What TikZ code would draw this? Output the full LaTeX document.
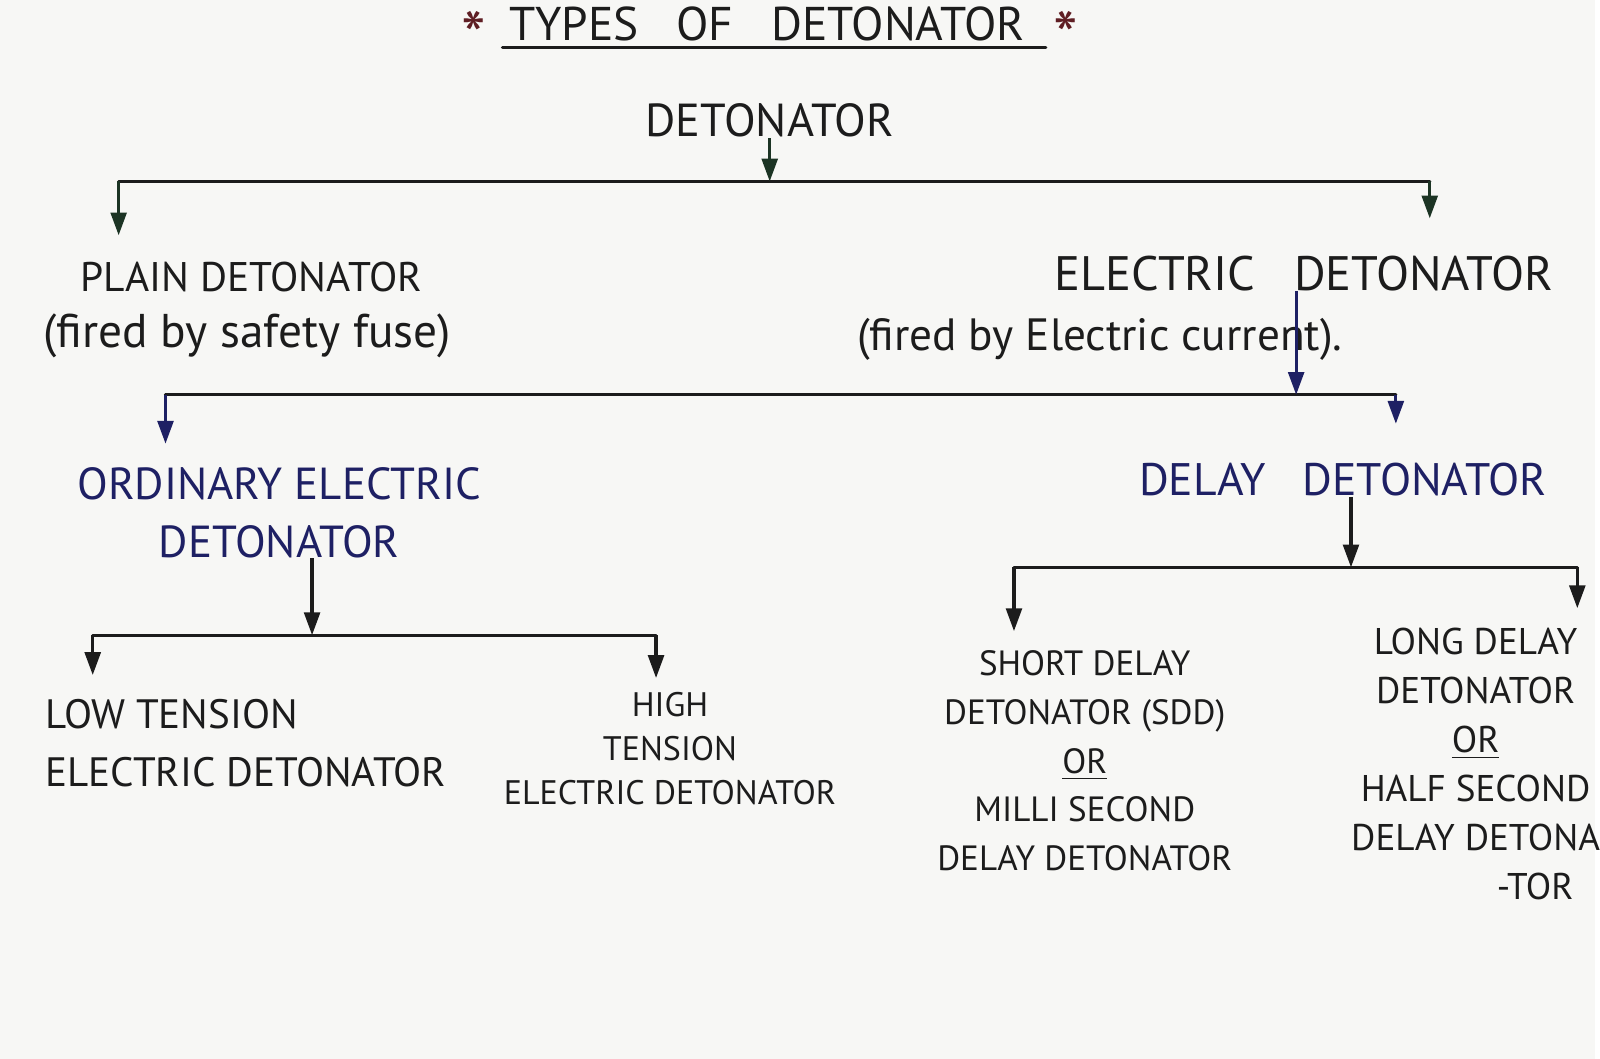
\documentclass[tikz,border=0pt]{standalone}
\usepackage{fontspec}
\setmainfont{PT Sans}
\usetikzlibrary{arrows.meta,positioning}

\definecolor{ink}{RGB}{28,28,28}
\definecolor{inkblue}{RGB}{30,32,100}
\definecolor{inkgreen}{RGB}{28,52,36}
\definecolor{inkred}{RGB}{95,30,35}
\definecolor{paper}{RGB}{247,247,245}
\newcommand{\fsz}[2]{\fontsize{#1}{#2}\selectfont}
\newcommand{\titlestar}{\textcolor{inkred}{\raisebox{-.9ex}[0pt][0pt]{\fsz{20}{20}*}}}

\begin{document}
\begin{tikzpicture}[
    x=0.01cm, y=-0.01cm,
    txt/.style={align=center, inner sep=0pt, text=ink},
    bluetxt/.style={txt, text=inkblue},
    arrow/.style={-{Triangle[length=6.5pt,width=4.5pt]}, line width=0.9pt, draw=ink},
    bar/.style={line width=0.9pt, draw=ink, line cap=round}
]
    % paper
    \fill[paper] (0,0) rectangle (1600,1062);

    % title
    \node[txt, font=\fsz{13.5}{16}] (title) at (772,24)
        {\titlestar\hspace{.5em}TYPES\hspace{.8em}OF\hspace{.8em}DETONATOR\hspace{.6em}\titlestar};
    \coordinate (ul1) at (504,48);
    \coordinate (ul2) at (1049,48);
    \draw[bar] (ul1) -- (ul2);

    % level 1
    \node[txt, font=\fsz{13.2}{15}] (root) at (772,121) {DETONATOR};
    \coordinate (a1) at (119,182);
    \coordinate (a2) at (1434,182);
    \coordinate (a1t) at (119,236);
    \coordinate (a2t) at (1434,219);
    \draw[bar] (a1) -- (a2);
    \draw[arrow, draw=inkgreen] (root.south) -- (root.south |- a1);
    \draw[arrow, draw=inkgreen] (a1) -- (a1t);
    \draw[arrow, draw=inkgreen] (a2) -- (a2t);

    \node[txt, font=\fsz{11.8}{17}] (plain) at (252,278)
        {PLAIN DETONATOR};
    \node[txt, font=\fsz{13.5}{16}] (plainnote) at (248,337)
        {(fired by safety fuse)};
    \node[txt, font=\fsz{13.8}{15}] (elec) at (1308,274)
        {ELECTRIC\hspace{.8em}DETONATOR};
    \node[txt, font=\fsz{12.9}{15}] (elecnote) at (1103,340)
        {(fired by Electric current).};

    % level 2
    \coordinate (e0) at (1300,396);
    \coordinate (b1) at (166,396);
    \coordinate (b2) at (1400,396);
    \coordinate (b1t) at (166,445);
    \coordinate (b2t) at (1400,425);
    \draw[bar] (b1) -- (b2);
    \draw[arrow, draw=inkblue] (e0 |- elec.south) -- (e0);
    \draw[arrow, draw=inkblue] (b1) -- (b1t);
    \draw[arrow, draw=inkblue] (b2) -- (b2t);

    \node[bluetxt, font=\fsz{12.8}{16.5}] (ordinary) at (280,514)
        {ORDINARY ELECTRIC\\DETONATOR};
    \node[bluetxt, font=\fsz{13}{14}] (delay) at (1347,481)
        {DELAY\hspace{.8em}DETONATOR};

    % ordinary electric detonator branch
    \coordinate (c0) at (313,637);
    \coordinate (c1) at (93,637);
    \coordinate (c2) at (658,637);
    \coordinate (c1t) at (93,677);
    \coordinate (c2t) at (658,680);
    \draw[bar] (c1) -- (c2);
    \draw[arrow] (c0 |- ordinary.south) -- (c0);
    \draw[arrow] (c1) -- (c1t);
    \draw[arrow] (c2) -- (c2t);

    \node[txt, align=left, anchor=west, font=\fsz{11.7}{16.5}] (lowten) at (45,745)
        {LOW TENSION\\ELECTRIC DETONATOR};
    \node[txt, font=\fsz{9.7}{12.5}] (highten) at (672,751)
        {HIGH\\TENSION\\ELECTRIC DETONATOR};

    % delay detonator branch
    \coordinate (d0) at (1355,569);
    \coordinate (d1) at (1017,569);
    \coordinate (d2) at (1582,569);
    \coordinate (d1t) at (1017,633);
    \coordinate (d2t) at (1582,610);
    \draw[bar] (d1) -- (d2);
    \draw[arrow] (d0 |- delay.south) -- (d0);
    \draw[arrow] (d1) -- (d1t);
    \draw[arrow] (d2) -- (d2t);

    \node[txt, font=\fsz{10}{13.9}] (shortdelay) at (1088,763)
        {SHORT DELAY\\DETONATOR (SDD)\\\underline{OR}\\MILLI SECOND\\DELAY DETONATOR};
    \node[txt, font=\fsz{10.6}{14}] (longdelay) at (1480,766)
        {LONG DELAY\\DETONATOR\\\underline{OR}\\HALF SECOND\\DELAY DETONA\\\hspace*{3.2em}-TOR};
\end{tikzpicture}
\end{document}
